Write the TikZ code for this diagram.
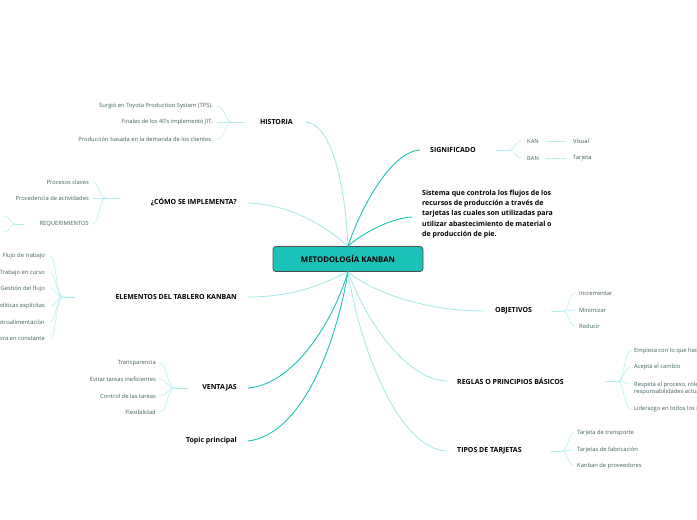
\documentclass[tikz,border=0pt]{standalone}
\usepackage{fontspec}
\setmainfont{Open Sans}
\definecolor{teal1}{HTML}{1CC2B8}
\definecolor{teal2}{HTML}{9EE8E6}
\definecolor{sub}{HTML}{B8F0F0}
\definecolor{subtxt}{HTML}{3F5E5E}
\begin{document}
\begin{tikzpicture}[x=1pt,y=-1pt,
  main/.style={font=\bfseries\fontsize{7}{8.4}\selectfont,inner sep=1pt},
  leaf/.style={font=\fontsize{5.8}{7}\selectfont,text=subtxt,inner sep=1pt},
  br/.style={draw=teal1,line width=0.9pt},
  brl/.style={draw=teal2,line width=0.8pt},
  sb/.style={draw=sub,line width=0.6pt}]
\useasboundingbox (0,0) rectangle (697,520);
\node[draw=black!70,line width=0.8pt,fill=teal1,rounded corners=3pt,minimum width=150pt,minimum height=25pt,font=\bfseries\fontsize{7.8}{9}\selectfont] (c) at (348,259) {METODOLOGÍA KANBAN};
% left branches
\node[main,anchor=east] (his) at (294,122) {HISTORIA};
\coordinate (hisR) at (305,122);
\draw[brl] (c.north) .. controls (345,180) and (330,122) .. (hisR);
\coordinate (hisL) at (245,122);
\draw[sb] (hisL) -- (232,122);
\foreach \y/\t in {106/{Surgió en Toyota Production System (TPS).},122/{Finales de los 40's implementó JIT.},139/{Producción basada en la demanda de los clientes.}}{
  \node[leaf,anchor=east] at (214,\y) {\t};
  \draw[sb] (232,122) .. controls (225,122) and (225,\y) .. (217,\y);}
\node[main,anchor=east] (como) at (238,202) {¿CÓMO SE IMPLEMENTA?};
\coordinate (comoR) at (248,203);
\draw[brl] (c.north) .. controls (335,235) and (300,205) .. (comoR);
\draw[sb] (120,198) -- (106,198);
\foreach \y/\t in {182/{Procesos claves},198/{Procedencia de actividades},224/{REQUERIMIENTOS}}{
  \node[leaf,anchor=east] at (90,\y) {\t};
  \draw[sb] (106,198) .. controls (99,198) and (99,\y) .. (93,\y);}
\draw[sb] (24,224) -- (15,224);
\draw[sb] (15,224) .. controls (10,224) and (10,216) .. (4,216);
\draw[sb] (15,224) .. controls (10,224) and (10,232) .. (4,232);
\node[main,anchor=east] (elem) at (238,297) {ELEMENTOS DEL TABLERO KANBAN};
\coordinate (elemR) at (248,297);
\draw[brl] (c.south) .. controls (330,280) and (300,297) .. (elemR);
\draw[line width=1pt,draw=teal2] (75,297) -- (63,297);
\foreach \y/\t in {256/{Flujo de trabajo},273/{Trabajo en curso},289/{Gestión del flujo},306/{Políticas explícitas},322/{Retroalimentación},339/{Mejora en constante}}{
  \node[leaf,anchor=east] at (46,\y) {\t};
  \draw[sb] (63,297) .. controls (56,297) and (56,\y) .. (50,\y);}
\node[main,anchor=east] (ven) at (238,388) {VENTAJAS};
\coordinate (venR) at (248,388);
\draw[br] (c.south) .. controls (330,330) and (290,385) .. (venR);
\draw[line width=1pt,draw=teal2] (188,388) -- (175,388);
\foreach \y/\t in {363/{Transparencia},379/{Evitar tareas ineficientes},396/{Control de las tareas},412/{Flexibilidad}}{
  \node[leaf,anchor=east] at (157,\y) {\t};
  \draw[sb] (175,388) .. controls (167,388) and (167,\y) .. (160,\y);}
\node[main,anchor=east] (top) at (238,441) {Topic principal};
\coordinate (topR) at (248,441);
\draw[br] (c.south) .. controls (335,350) and (300,435) .. (topR);
% right branches
\node[main,anchor=west] (sig) at (429,150) {SIGNIFICADO};
\coordinate (sigL) at (420,150);
\draw[br] (c.north) .. controls (360,210) and (390,152) .. (sigL);
\draw[sb] (496,150) -- (509,150);
\node[leaf,anchor=west] (kan) at (526,141) {KAN};
\node[leaf,anchor=west] (ban) at (526,158) {BAN};
\draw[sb] (509,150) .. controls (515,150) and (515,141) .. (522,141);
\draw[sb] (509,150) .. controls (515,150) and (515,158) .. (522,158);
\node[leaf,anchor=west] (vis) at (572,141) {Visual};
\node[leaf,anchor=west] (tar) at (572,158) {Tarjeta};
\draw[sb] (546,141) -- (566,141);
\draw[sb] (546,158) -- (566,158);
\node[main,anchor=north west,align=left,font=\bfseries\fontsize{7}{10.2}\selectfont] (par) at (421,189) {Sistema que controla los flujos de los\\recursos de producción a través de\\tarjetas las cuales son utilizadas para\\utilizar abastecimiento de material o\\de producción de pie.};
\coordinate (parL) at (412,217);
\draw[br] (c.north) .. controls (360,235) and (390,218) .. (parL);
\node[main,anchor=west] (obj) at (494,311) {OBJETIVOS};
\coordinate (objL) at (485,311);
\draw[brl] (c.south) .. controls (370,290) and (420,311) .. (objL);
\draw[sb] (551,311) -- (563,311);
\foreach \y/\t in {293/{Incrementar},310/{Minimizar},326/{Reducir}}{
  \node[leaf,anchor=west] at (578,\y) {\t};
  \draw[sb] (563,311) .. controls (569,311) and (569,\y) .. (575,\y);}
\node[main,anchor=west] (reg) at (456,381) {REGLAS O PRINCIPIOS BÁSICOS};
\coordinate (regL) at (447,381);
\draw[brl] (c.south) .. controls (370,330) and (410,380) .. (regL);
\draw[sb] (605,381) -- (618,381);
\foreach \y/\t in {351/{Empieza con lo que haces},367/{Acepta el cambio},409/{Liderazgo en todos los niveles}}{
  \node[leaf,anchor=west] at (633,\y) {\t};
  \draw[sb] (618,381) .. controls (624,381) and (624,\y) .. (631,\y);}
\node[leaf,anchor=west,align=left,font=\fontsize{5.8}{7}\selectfont] at (633,388) {Respeta el proceso, roles y\\responsabilidades actuales};
\draw[sb] (618,381) .. controls (624,381) and (624,384) .. (631,384);
\node[main,anchor=west] (tip) at (456,451) {TIPOS DE TARJETAS};
\coordinate (tipL) at (447,451);
\draw[brl] (c.south) .. controls (360,350) and (400,450) .. (tipL);
\draw[sb] (550,451) -- (562,451);
\foreach \y/\t in {433/{Tarjeta de transporte},450/{Tarjetas de fabricación},466/{Kanban de proveedores}}{
  \node[leaf,anchor=west] at (576,\y) {\t};
  \draw[sb] (562,451) .. controls (568,451) and (568,\y) .. (574,\y);}
\end{tikzpicture}
\end{document}
